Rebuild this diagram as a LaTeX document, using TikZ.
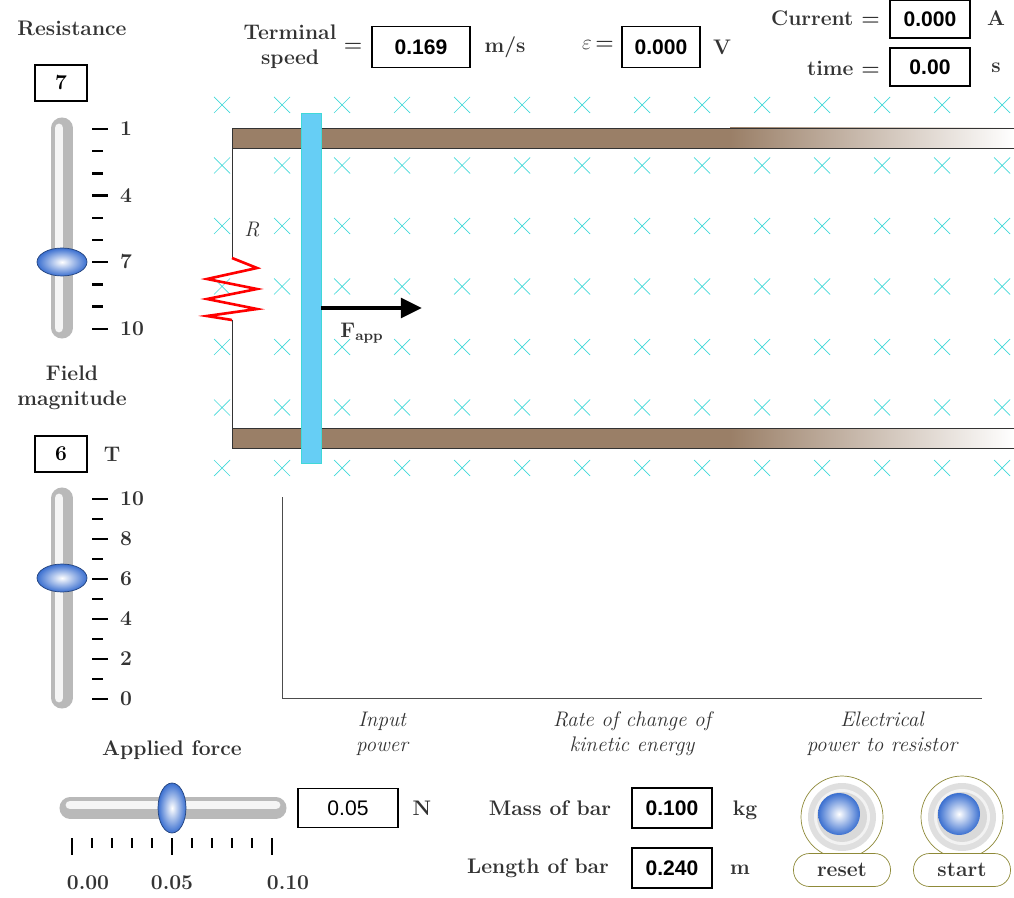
\documentclass[tikz,border=0pt]{standalone}
\usepackage{fontspec}
\newfontfamily\valfont{Liberation Sans}
\usetikzlibrary{arrows.meta,shapes.geometric}
\definecolor{rail}{HTML}{9A7F67}
\definecolor{xcol}{HTML}{40D8D8}
\definecolor{knob}{HTML}{3A6FD0}
\definecolor{txt}{HTML}{333333}
\tikzset{
 lbl/.style={font=\bfseries\large,text=txt,align=center},
 unit/.style={font=\bfseries\large,text=txt},
 valbox/.style={draw=black,thick,fill=white,minimum width=#1,minimum height=0.72cm,font=\valfont\bfseries\large,inner sep=0pt},
 valbox/.default=1.6cm,
 captxt/.style={font=\itshape\large,text=txt,align=center,inner sep=0pt},
 tickln/.style={line width=1.3pt},
 track/.style={line width=12pt,line cap=round,draw=gray!55},
 trackhi/.style={line width=5pt,line cap=round,draw=gray!8},
 knobst/.style={ellipse,draw=knob!60!black,inner color=white,outer color=knob,minimum width=#1},
 xm/.style={draw=xcol,thin}
}
\begin{document}
\begin{tikzpicture}[x=0.02cm,y=-0.02cm]
\useasboundingbox (0,0) rectangle (1014,898);
% crosses
\foreach \i in {0,...,13}{\foreach \j in {0,...,6}{
 \pgfmathsetmacro\cx{222+60*\i}\pgfmathsetmacro\cy{105+60.5*\j}
 \draw[xm] (\cx-8,\cy-8) -- (\cx+8,\cy+8) (\cx-8,\cy+8) -- (\cx+8,\cy-8);}}
% rails
\foreach \ya in {128,428}{
 \fill[rail] (232,\ya) rectangle (732,\ya+20);
 \shade[left color=rail,right color=white] (730,\ya) rectangle (1014,\ya+20);
 \draw[black!80] (1014,\ya) -- (232,\ya) -- (232,\ya+20) -- (1014,\ya+20);}
% wire + resistor
\draw[black!80] (232,148) -- (232,258) (232,320) -- (232,428);
\draw[red,line width=1.5pt] (232,258) -- (257,268) -- (207,279) -- (257,289) -- (207,299) -- (257,309) -- (207,316) -- (232,320);
\node[font=\itshape\large,text=txt] (R) at (252,230) {R};
% bar
\node[draw=xcol,fill=cyan!60,minimum width=0.4cm,minimum height=7cm,inner sep=0] (bar) at (311,288) {};
\coordinate (fa) at (422,308);
\draw[-{Triangle[length=12pt,width=11pt]},line width=2.5pt] (bar.east|-fa) -- (fa);
\node[font=\bfseries\large,text=txt] (F) at (362,333) {F\textsubscript{app}};
% graph
\coordinate (g0) at (282,698);
\draw[black!70] (282,497) -- (g0) -- (982,698);
\node[captxt] (c1) at (382,734) {Input\\power};
\node[captxt] (c2) at (632,734) {Rate of change of\\kinetic energy};
\node[captxt] (c3) at (882,734) {Electrical\\power to resistor};
% top texts
\node[lbl] (res) at (72,28) {Resistance};
\node[valbox=1.04cm,font=\large\bfseries] (rb) at (61,83) {7};
\node[unit] (om) at (117,83) {$\mathbf{\Omega}$};
\draw[track] (62,128) -- (62,328); \draw[trackhi] (59,128) -- (59,328);
\foreach \k in {0,...,9}{\pgfmathsetmacro\ty{129+22.2*\k}
 \ifnum\k=0 \draw[tickln] (92,\ty)--(108,\ty);\else\ifnum\k=3 \draw[tickln] (92,\ty)--(108,\ty);\else\ifnum\k=6 \draw[tickln] (92,\ty)--(108,\ty);\else\ifnum\k=9 \draw[tickln] (92,\ty)--(108,\ty);\else\draw[tickln] (92,\ty)--(103,\ty);\fi\fi\fi\fi}
\foreach \v/\ty in {1/129,4/196,7/262,10/329}{\node[unit,anchor=west] at (114,\ty) {\v};}
\node[knobst=1cm,minimum height=0.56cm] (k1) at (62,262) {};
\node[lbl] (fm) at (72,388) {Field\\magnitude};
\node[valbox=1.04cm,font=\large\bfseries] (fb) at (61,454) {6};
\node[unit] (T) at (112,454) {T};
\draw[track] (62,498) -- (62,698); \draw[trackhi] (59,498) -- (59,698);
\foreach \k in {0,...,10}{\pgfmathsetmacro\ty{499+20*\k}
 \ifodd\k \draw[tickln] (92,\ty)--(103,\ty);\else \draw[tickln] (92,\ty)--(108,\ty);\fi}
\foreach \v/\ty in {10/499,8/539,6/579,4/619,2/659,0/699}{\node[unit,anchor=west] at (114,\ty) {\v};}
\node[knobst=1cm,minimum height=0.56cm] (k2) at (62,578) {};
% applied force
\node[lbl] (af) at (172,750) {Applied force};
\draw[track] (70,808) -- (276,808); \draw[trackhi] (70,805) -- (276,805);
\foreach \k in {0,...,10}{\pgfmathsetmacro\tx{72+20*\k}
 \ifnum\k=0 \draw[tickln] (\tx,838)--(\tx,855);\else\ifnum\k=5 \draw[tickln] (\tx,838)--(\tx,855);\else\ifnum\k=10 \draw[tickln] (\tx,838)--(\tx,855);\else\draw[tickln] (\tx,838)--(\tx,848);\fi\fi\fi}
\node[unit] at (88,883) {0.00}; \node[unit] at (172,883) {0.05}; \node[unit] at (288,883) {0.10};
\node[knobst=0.56cm,minimum height=1cm] (k3) at (172,808) {};
\node[valbox=2cm,minimum height=0.78cm,font=\valfont\large] (ab) at (348,808) {0.05};
\node[unit] (N) at (422,808) {N};
% top readouts
\node[lbl] (ts) at (290,47) {Terminal\\speed};
\node[unit] (eq1) at (353,47) {=};
\node[valbox=1.96cm,minimum height=0.82cm] (tsb) at (421,47) {0.169};
\node[unit] (ms) at (505,47) {m/s};
\node[unit] (eps) at (598,45) {$\varepsilon$\,=};
\node[valbox=1.56cm,minimum height=0.82cm] (eb) at (661,47) {0.000};
\node[unit] (V) at (722,47) {V};
\node[lbl,anchor=east] (cu) at (886,18) {Current =};
\node[valbox=1.6cm,minimum height=0.76cm] (cb) at (930,19) {0.000};
\node[unit] (A) at (996,18) {A};
\node[lbl,anchor=east] (tm) at (886,68) {time =};
\node[valbox=1.6cm,minimum height=0.76cm] (tb) at (930,67) {0.00};
\node[unit] (s) at (996,68) {s};
\node[lbl] (mb) at (550,808) {Mass of bar};
\node[valbox=1.6cm,minimum height=0.8cm] (mbb) at (672,808) {0.100};
\node[unit] (kg) at (745,810) {kg};
\node[lbl] (lb) at (538,868) {Length of bar};
\node[valbox=1.6cm,minimum height=0.8cm] (lbb) at (672,868) {0.240};
\node[unit] (m) at (740,870) {m};
% buttons
\foreach \bx/\bt in {842/reset,962/start}{
 \draw[draw=olive!60!gray,fill=white] (\bx,817) circle[radius=0.82cm];
 \node[draw=olive!60!gray,fill=white,rounded corners=0.32cm,minimum width=1.94cm,minimum height=0.66cm,font=\bfseries\large,text=txt] at (\bx,870) {\bt};
 \fill[gray!25] (\bx,817) circle[radius=0.68cm];
 \fill[gray!10] (\bx,817) circle[radius=0.56cm];
 \fill[gray!30] (\bx,817) circle[radius=0.5cm];
 \shade[inner color=white,outer color=knob] (\bx-3,814) circle[radius=0.42cm];
}
\end{tikzpicture}
\end{document}
